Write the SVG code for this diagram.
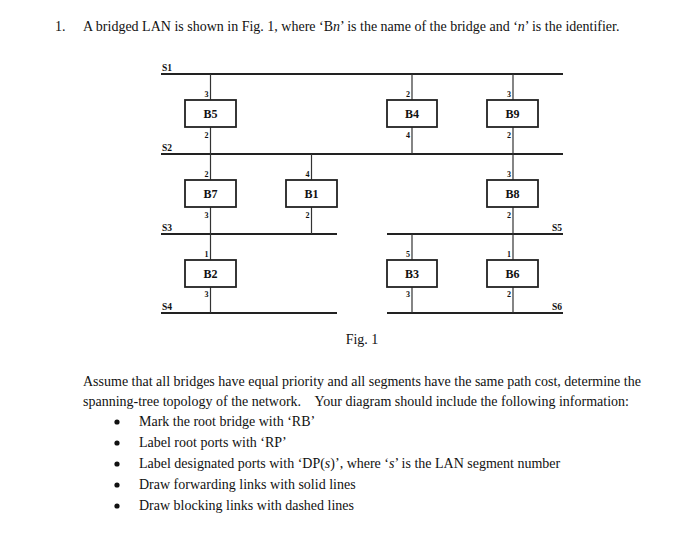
<svg xmlns="http://www.w3.org/2000/svg" width="700" height="560" viewBox="0 0 700 560">
<style>
.seg{stroke:#222;stroke-width:2;fill:none}
.link{stroke:#333;stroke-width:1.2;fill:none}
.box{fill:#fff;stroke:#222;stroke-width:1.8}
.bn{font-family:"Liberation Serif",serif;font-weight:bold;font-size:12px;text-anchor:middle;fill:#111}
.pt{font-family:"Liberation Serif",serif;font-weight:bold;font-size:8px;text-anchor:end;fill:#111}
.sl{font-family:"Liberation Serif",serif;font-weight:bold;font-size:9.5px;fill:#111}
.tx{font-family:"Liberation Serif",serif;font-size:14px;fill:#111}
</style>
<rect width="700" height="560" fill="#fff"/>
<text class="tx" x="55" y="31">1.</text>
<text class="tx" x="83" y="31">A bridged LAN is shown in Fig. 1, where ‘B<tspan font-style="italic">n</tspan>’ is the name of the bridge and ‘<tspan font-style="italic">n</tspan>’ is the identifier.</text>

<g id="segments">
<line class="seg" x1="161" y1="74" x2="563" y2="74"/>
<line class="seg" x1="161" y1="154" x2="563" y2="154"/>
<line class="seg" x1="161" y1="234" x2="337" y2="234"/>
<line class="seg" x1="387" y1="234" x2="563" y2="234"/>
<line class="seg" x1="161" y1="313" x2="337" y2="313"/>
<line class="seg" x1="387" y1="313" x2="563" y2="313"/>
<text class="sl" x="162" y="71">S1</text>
<text class="sl" x="162" y="151">S2</text>
<text class="sl" x="162" y="231">S3</text>
<text class="sl" x="562" y="231" text-anchor="end">S5</text>
<text class="sl" x="162" y="310">S4</text>
<text class="sl" x="562" y="310" text-anchor="end">S6</text>
</g>

<g id="connectors">
<line class="link" x1="210.5" y1="74" x2="210.5" y2="154"/>
<line class="link" x1="412" y1="74" x2="412" y2="154"/>
<line class="link" x1="513" y1="74" x2="513" y2="154"/>
<line class="link" x1="210.5" y1="154" x2="210.5" y2="234"/>
<line class="link" x1="311.5" y1="154" x2="311.5" y2="234"/>
<line class="link" x1="513" y1="154" x2="513" y2="234"/>
<line class="link" x1="210.5" y1="234" x2="210.5" y2="313"/>
<line class="link" x1="412" y1="234" x2="412" y2="313"/>
<line class="link" x1="513" y1="234" x2="513" y2="313"/>
</g>

<g id="B5"><rect class="box" x="185" y="100" width="51" height="27"/><text class="bn" x="210.5" y="118">B5</text><text class="pt" x="208.5" y="97">3</text><text class="pt" x="208.5" y="138">2</text></g>
<g id="B4"><rect class="box" x="387" y="100" width="50" height="27"/><text class="bn" x="412" y="118">B4</text><text class="pt" x="410" y="97">2</text><text class="pt" x="410" y="138">4</text></g>
<g id="B9"><rect class="box" x="487" y="100" width="51" height="27"/><text class="bn" x="512.5" y="118">B9</text><text class="pt" x="511" y="97">3</text><text class="pt" x="511" y="138">2</text></g>
<g id="B7"><rect class="box" x="185" y="180" width="51" height="27"/><text class="bn" x="210.5" y="198">B7</text><text class="pt" x="208.5" y="177">2</text><text class="pt" x="208.5" y="218">3</text></g>
<g id="B1"><rect class="box" x="286" y="180" width="51" height="27"/><text class="bn" x="311.5" y="198">B1</text><text class="pt" x="309.5" y="177">4</text><text class="pt" x="309.5" y="218">2</text></g>
<g id="B8"><rect class="box" x="487" y="180" width="51" height="27"/><text class="bn" x="512.5" y="198">B8</text><text class="pt" x="511" y="177">3</text><text class="pt" x="511" y="218">2</text></g>
<g id="B2"><rect class="box" x="185" y="260" width="51" height="27"/><text class="bn" x="210.5" y="278">B2</text><text class="pt" x="208.5" y="257">1</text><text class="pt" x="208.5" y="297">3</text></g>
<g id="B3"><rect class="box" x="387" y="260" width="50" height="27"/><text class="bn" x="412" y="278">B3</text><text class="pt" x="410" y="257">5</text><text class="pt" x="410" y="297">3</text></g>
<g id="B6"><rect class="box" x="487" y="260" width="51" height="27"/><text class="bn" x="512.5" y="278">B6</text><text class="pt" x="511" y="257">1</text><text class="pt" x="511" y="297">2</text></g>

<text class="tx" x="362" y="344" text-anchor="middle">Fig. 1</text>
<text class="tx" x="83" y="386">Assume that all bridges have equal priority and all segments have the same path cost, determine the</text>
<text class="tx" x="83" y="406" xml:space="preserve">spanning-tree topology of the network.    Your diagram should include the following information:</text>
<g>
<circle cx="117" cy="422" r="2.6" fill="#111"/><text class="tx" x="139" y="426">Mark the root bridge with ‘RB’</text>
<circle cx="117" cy="443" r="2.6" fill="#111"/><text class="tx" x="139" y="447">Label root ports with ‘RP’</text>
<circle cx="117" cy="464" r="2.6" fill="#111"/><text class="tx" x="139" y="468">Label designated ports with ‘DP(<tspan font-style="italic">s</tspan>)’, where ‘<tspan font-style="italic">s</tspan>’ is the LAN segment number</text>
<circle cx="117" cy="485" r="2.6" fill="#111"/><text class="tx" x="139" y="489">Draw forwarding links with solid lines</text>
<circle cx="117" cy="506" r="2.6" fill="#111"/><text class="tx" x="139" y="510">Draw blocking links with dashed lines</text>
</g>
</svg>
